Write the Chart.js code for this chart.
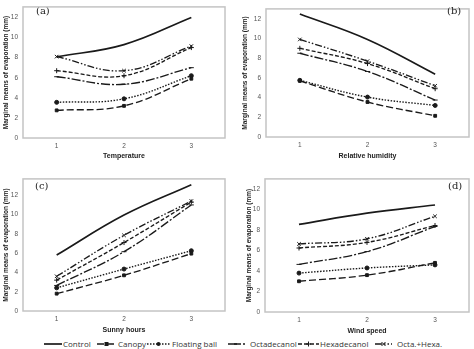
<!DOCTYPE html>
<html>
<head>
<meta charset="utf-8">
<script src="https://cdn.jsdelivr.net/npm/chart.js@4.4.1/dist/chart.umd.min.js"></script>
<style>
  body { margin: 0; background: #fff; width: 474px; height: 349px; overflow: hidden; position: relative; font-family: "Open Sans", "Liberation Sans", sans-serif; }
  canvas { position: absolute; }
  .tag { position: absolute; font-family: "DejaVu Serif", "Liberation Serif", serif; font-size: 10px; color: #222; }
  #legend { position: absolute; left: 0; top: 338px; width: 474px; height: 12px; font-size: 8px; color: #333; }
  #legend .item { position: absolute; top: 0; white-space: nowrap; line-height: 12px; }
  #legend svg { position: absolute; top: 2px; }
</style>
</head>
<body>
<canvas id="chartA"></canvas>
<canvas id="chartB"></canvas>
<canvas id="chartC"></canvas>
<canvas id="chartD"></canvas>
<div class="tag" style="left:36px;top:5px">(a)</div>
<div class="tag" style="left:447px;top:5px">(b)</div>
<div class="tag" style="left:35px;top:180px">(c)</div>
<div class="tag" style="left:448px;top:180px">(d)</div>
<div id="legend"></div>

<script>
// Categories and ticks
const xLabels = ["1", "2", "3"];
const yTicks = [0, 2, 4, 6, 8, 10, 12];
const seriesNames = ["Control", "Canopy", "Floating ball", "Octadecanol", "Hexadecanol", "Octa.+Hexa."];

// (a) Temperature
const tempControl = [8.08, 9.3, 12.0];
const tempCanopy = [2.75, 3.2, 5.9];
const tempFloating = [3.55, 3.9, 6.2];
const tempOcta = [6.1, 5.35, 7.0];
const tempHexa = [6.7, 6.2, 9.0];
const tempOctaHexa = [8.1, 6.7, 9.15];

// (b) Relative humidity
const rhControl = [12.48, 9.9, 6.38];
const rhCanopy = [5.7, 3.55, 2.15];
const rhFloating = [5.75, 4.05, 3.2];
const rhOcta = [8.5, 6.65, 3.75];
const rhHexa = [9.0, 7.45, 4.9];
const rhOctaHexa = [9.9, 7.7, 5.2];

// (c) Sunny hours
const sunControl = [5.8, 9.95, 13.1];
const sunCanopy = [1.8, 3.7, 5.95];
const sunFloating = [2.4, 4.35, 6.25];
const sunOcta = [2.65, 6.15, 11.0];
const sunHexa = [3.2, 7.1, 11.3];
const sunOctaHexa = [3.6, 7.85, 11.4];

// (d) Wind speed
const windControl = [8.55, 9.65, 10.45];
const windCanopy = [3.0, 3.6, 4.8];
const windFloating = [3.8, 4.3, 4.6];
const windOcta = [4.65, 5.9, 8.35];
const windHexa = [6.25, 6.8, 8.45];
const windOctaHexa = [6.65, 7.15, 9.35];

// Line look for each series (same order as seriesNames)
const lineStyles = [
  { dash: [], width: 1.7, point: false, radius: 0 },
  { dash: [7, 3], width: 1.35, point: "rect", radius: 2 },
  { dash: [1.5, 1.5], width: 1.4, point: "circle", radius: 2 },
  { dash: [9, 2, 2, 2], width: 1.35, point: "line", radius: 2.5 },
  { dash: [4, 2], width: 1.35, point: "cross", radius: 2.5 },
  { dash: [7, 2, 1.5, 2, 1.5, 2], width: 1.35, point: "crossRot", radius: 2.5 },
];

const INK = "#1a1a1a";
const FRAME = "#c4c4c4";
const yTitle = "Marginal means of evaporation (mm)";

// Stroke the plot-area frame like Excel
const frame = {
  id: "frame",
  beforeDatasetsDraw(chart) {
    const a = chart.chartArea;
    const ctx = chart.ctx;
    ctx.save();
    ctx.strokeStyle = FRAME;
    ctx.lineWidth = 1.5;
    ctx.strokeRect(a.left, a.top, a.right - a.left, a.bottom - a.top);
    ctx.restore();
  },
};

function makePanel(id, box, area, yMax, xTitle, values) {
  const el = document.getElementById(id);
  el.style.left = box.left + "px";
  el.style.top = box.top + "px";
  el.width = box.right - box.left;
  el.height = box.bottom - box.top;

  const datasets = values.map((data, i) => {
    const s = lineStyles[i];
    return {
      label: seriesNames[i],
      data: data,
      borderColor: INK,
      backgroundColor: INK,
      borderWidth: s.width,
      borderDash: s.dash,
      tension: 0.4,
      pointStyle: s.point,
      pointRadius: s.radius,
      pointBorderWidth: 1,
      pointBorderColor: INK,
      pointBackgroundColor: INK,
    };
  });

  return new Chart(el.getContext("2d"), {
    type: "line",
    data: { labels: xLabels, datasets: datasets },
    options: {
      responsive: false,
      animation: false,
      devicePixelRatio: 1,
      layout: {
        padding: { top: area.top - box.top, right: box.right - area.right, left: 0, bottom: 0 },
      },
      plugins: { legend: { display: false }, tooltip: { enabled: false } },
      scales: {
        x: {
          type: "category",
          offset: true,
          grid: { display: false, drawTicks: false },
          border: { display: false },
          ticks: { color: "#555", font: { size: 6.5 }, padding: 4 },
          title: { display: true, text: xTitle, color: "#222", font: { size: 7, weight: "bold" }, padding: { top: 1, bottom: 0 } },
          afterFit: (s) => { s.height = box.bottom - area.bottom; },
        },
        y: {
          min: 0,
          max: yMax,
          grid: { display: false, drawTicks: false },
          border: { display: false },
          afterBuildTicks: (s) => { s.ticks = yTicks.map((v) => ({ value: v })); },
          ticks: { color: "#555", font: { size: 6.5 }, padding: 5 },
          title: { display: true, text: yTitle, color: "#222", font: { size: 6.5, weight: "bold" }, padding: { top: 2, bottom: 0 } },
          afterFit: (s) => { s.width = area.left - box.left; },
        },
      },
    },
    plugins: [frame],
  });
}

makePanel("chartA", { left: 0, top: -2, right: 230, bottom: 160 }, { left: 23, top: -1, right: 227, bottom: 138 }, 13.05,
  "Temperature", [tempControl, tempCanopy, tempFloating, tempOcta, tempHexa, tempOctaHexa]);
makePanel("chartB", { left: 239, top: 0, right: 474, bottom: 160 }, { left: 266, top: 1, right: 472, bottom: 137 }, 13.0,
  "Relative humidity", [rhControl, rhCanopy, rhFloating, rhOcta, rhHexa, rhOctaHexa]);
makePanel("chartC", { left: 0, top: 170, right: 230, bottom: 334 }, { left: 23, top: 173, right: 227, bottom: 311 }, 13.7,
  "Sunny hours", [sunControl, sunCanopy, sunFloating, sunOcta, sunHexa, sunOctaHexa]);
makePanel("chartD", { left: 243, top: 170, right: 474, bottom: 335 }, { left: 265, top: 173, right: 472, bottom: 312 }, 13.0,
  "Wind speed", [windControl, windCanopy, windFloating, windOcta, windHexa, windOctaHexa]);

// Legend: sample line + marker, then the name
const legendPos = [
  { line: 44, len: 18, text: 63 },
  { line: 97, len: 19, text: 118 },
  { line: 147, len: 23, text: 172 },
  { line: 228, len: 17, text: 250 },
  { line: 298, len: 21, text: 320 },
  { line: 375, len: 17, text: 397 },
];

function markerSvg(kind, cx, cy) {
  if (kind === "rect") return `<rect x="${cx - 2}" y="${cy - 2}" width="4" height="4" fill="${INK}"/>`;
  if (kind === "circle") return `<circle cx="${cx}" cy="${cy}" r="2" fill="${INK}"/>`;
  if (kind === "cross") return `<path d="M${cx - 2.5} ${cy}H${cx + 2.5}M${cx} ${cy - 2.5}V${cy + 2.5}" stroke="${INK}" stroke-width="1"/>`;
  if (kind === "crossRot") return `<path d="M${cx - 2} ${cy - 2}L${cx + 2} ${cy + 2}M${cx - 2} ${cy + 2}L${cx + 2} ${cy - 2}" stroke="${INK}" stroke-width="1"/>`;
  if (kind === "line") return `<path d="M${cx - 2.5} ${cy}H${cx + 2.5}" stroke="${INK}" stroke-width="1.5"/>`;
  return "";
}

const legendEl = document.getElementById("legend");
seriesNames.forEach((name, i) => {
  const s = lineStyles[i];
  const p = legendPos[i];
  const svg = document.createElementNS("http://www.w3.org/2000/svg", "svg");
  svg.setAttribute("width", p.len);
  svg.setAttribute("height", 8);
  svg.style.left = p.line + "px";
  const mid = p.len / 2;
  svg.innerHTML = `<line x1="0" y1="4" x2="${p.len}" y2="4" stroke="${INK}" stroke-width="${s.width}" stroke-dasharray="${s.dash.join(" ")}"/>` +
    (s.point ? markerSvg(s.point, mid, 4) : "");
  legendEl.appendChild(svg);
  const label = document.createElement("span");
  label.className = "item";
  label.style.left = p.text + "px";
  label.textContent = name;
  legendEl.appendChild(label);
});
</script>
</body>
</html>
